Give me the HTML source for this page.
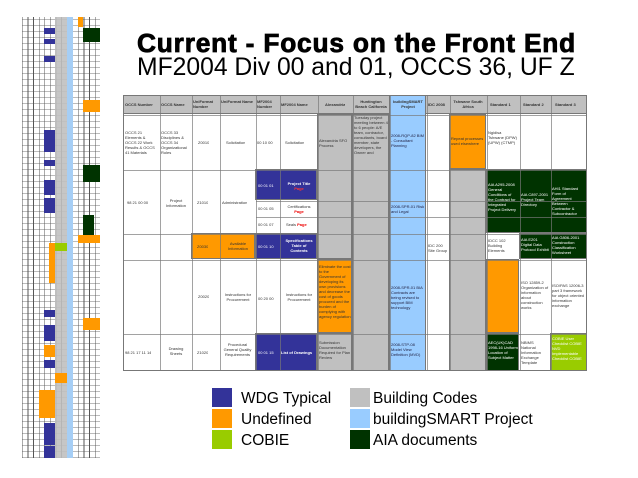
<!DOCTYPE html><html><head><style>
body{margin:0;width:638px;height:478px;background:#fff;position:relative;overflow:hidden;font-family:"Liberation Sans",sans-serif}
div{position:absolute;box-sizing:border-box}
.c{border:0.6px solid #777;font-size:3.5px;line-height:4px;color:#333;overflow:hidden;padding:1px}
.t{font-size:15.5px;color:#000;line-height:18px}
.s{width:20px;height:19px}
.x{font-size:4px;line-height:5px;color:#333;overflow:hidden}
.w{color:#fff}
</style></head><body>
<div style="left:137px;top:28px;font-size:26.3px;font-weight:bold;white-space:nowrap;letter-spacing:0.8px;-webkit-text-stroke:0.8px #000">Current - Focus on the Front End</div>
<div style="left:137px;top:54px;font-size:24.7px;white-space:nowrap">MF2004 Div 00 and 01, OCCS 36, UF Z</div>

<!-- left strip -->
<div style="left:22px;top:17px;width:78px;height:441px;background:repeating-linear-gradient(90deg,#555 0 0.7px,transparent 0.7px 5.6px),repeating-linear-gradient(0deg,#777 0 0.6px,#fff 0.6px 6px)"></div>
<div style="left:55px;top:17px;width:12px;height:441px;background:#c0c0c0;opacity:.9"></div>
<div style="left:67px;top:17px;width:6px;height:441px;background:#a6cef5"></div>
<div style="left:44px;top:28px;width:11px;height:6px;background:#333399"></div>
<div style="left:44px;top:39px;width:11px;height:5px;background:#333399"></div>
<div style="left:44px;top:56px;width:11px;height:6px;background:#333399"></div>
<div style="left:44px;top:130px;width:11px;height:22px;background:#333399"></div>
<div style="left:44px;top:160px;width:11px;height:6px;background:#333399"></div>
<div style="left:44px;top:180px;width:11px;height:15px;background:#333399"></div>
<div style="left:44px;top:198px;width:11px;height:15px;background:#333399"></div>
<div style="left:44px;top:310px;width:11px;height:7px;background:#333399"></div>
<div style="left:44px;top:325px;width:11px;height:16px;background:#333399"></div>
<div style="left:44px;top:360px;width:11px;height:8px;background:#333399"></div>
<div style="left:44px;top:423px;width:11px;height:22px;background:#333399"></div>
<div style="left:44px;top:446px;width:11px;height:12px;background:#333399"></div>
<div style="left:49px;top:243px;width:6px;height:40px;background:#ff9900"></div>
<div style="left:39px;top:390px;width:16px;height:28px;background:#ff9900"></div>
<div style="left:44px;top:345px;width:11px;height:12px;background:#ff9900"></div>
<div style="left:78px;top:17px;width:5px;height:10px;background:#ff9900"></div>
<div style="left:83px;top:28px;width:17px;height:14px;background:#003300"></div>
<div style="left:83px;top:215px;width:11px;height:28px;background:#003300"></div>
<div style="left:83px;top:165px;width:17px;height:17px;background:#003300"></div>
<div style="left:78px;top:235px;width:22px;height:8px;background:#ff9900"></div>
<div style="left:55px;top:243px;width:12px;height:8px;background:#99cc00"></div>
<div style="left:83px;top:100px;width:17px;height:12px;background:#ff9900"></div>
<div style="left:83px;top:318px;width:17px;height:12px;background:#ff9900"></div>
<div style="left:55px;top:373px;width:12px;height:10px;background:#ff9900"></div>

<!-- table -->
<div style="left:123px;top:95px;width:464px;height:276px;background:#fff"></div>
<div class="c" style="left:123px;top:95px;width:464px;height:19px;background:#c0c0c0"></div>
<div class="c" style="left:389px;top:95px;width:37px;height:276px;background:#99ccff"></div>
<div class="c" style="left:317px;top:114px;width:35px;height:145px;background:#c0c0c0"></div>
<div class="c" style="left:317px;top:333px;width:35px;height:38px;background:#c0c0c0"></div>
<div class="c" style="left:352px;top:114px;width:37px;height:257px;background:#c0c0c0"></div>
<div class="c" style="left:449px;top:114px;width:37px;height:55px;background:#ff9900"></div>
<div class="c" style="left:449px;top:169px;width:37px;height:202px;background:#c0c0c0"></div>
<div class="c" style="left:255px;top:169px;width:62px;height:31px;background:#333399"></div>
<div class="c" style="left:255px;top:233px;width:62px;height:26px;background:#333399"></div>
<div class="c" style="left:255px;top:333px;width:62px;height:38px;background:#333399"></div>
<div class="c" style="left:191px;top:233px;width:64px;height:26px;background:#ff9900"></div>
<div class="c" style="left:486px;top:169px;width:101px;height:64px;background:#003300"></div>
<div class="c" style="left:519px;top:233px;width:68px;height:26px;background:#003300"></div>
<div class="c" style="left:317px;top:259px;width:35px;height:74px;background:#ff9900"></div>
<div class="c" style="left:486px;top:259px;width:33px;height:74px;background:#ff9900"></div>
<div class="c" style="left:486px;top:333px;width:33px;height:38px;background:#003300"></div>
<div class="c" style="left:550px;top:333px;width:37px;height:38px;background:#99cc00"></div>
<!-- grid lines -->
<div style="left:123px;top:95px;width:464px;height:276px;border:0.7px solid #777;background:
linear-gradient(#777,#777) 35.5px 0/0.7px 100% no-repeat,
linear-gradient(#777,#777) 67.5px 0/0.7px 100% no-repeat,
linear-gradient(#777,#777) 95.5px 0/0.7px 100% no-repeat,
linear-gradient(#777,#777) 131.5px 0/0.7px 100% no-repeat,
linear-gradient(#777,#777) 155.5px 0/0.7px 100% no-repeat,
linear-gradient(#777,#777) 193.5px 0/0.7px 100% no-repeat,
linear-gradient(#777,#777) 228.5px 0/0.7px 100% no-repeat,
linear-gradient(#777,#777) 265.5px 0/0.7px 100% no-repeat,
linear-gradient(#777,#777) 302.5px 0/0.7px 100% no-repeat,
linear-gradient(#777,#777) 325.5px 0/0.7px 100% no-repeat,
linear-gradient(#777,#777) 362.5px 0/0.7px 100% no-repeat,
linear-gradient(#777,#777) 395.5px 0/0.7px 100% no-repeat,
linear-gradient(#777,#777) 426.5px 0/0.7px 100% no-repeat,
linear-gradient(#777,#777) 0 18.5px/100% 0.7px no-repeat,
linear-gradient(#777,#777) 0 73.5px/100% 0.7px no-repeat,
linear-gradient(#777,#777) 0 137.5px/100% 0.7px no-repeat,
linear-gradient(#777,#777) 0 163.5px/100% 0.7px no-repeat,
linear-gradient(#777,#777) 0 237.5px/100% 0.7px no-repeat,
linear-gradient(#777,#777) 132px 104.5px/330px 0.7px no-repeat,
linear-gradient(#777,#777) 132px 120.5px/330px 0.7px no-repeat"></div>
<!-- header labels -->
<div class="x" style="left:125px;top:102px;font-weight:bold">OCCS Number</div>
<div class="x" style="left:161px;top:102px;font-weight:bold">OCCS Name</div>
<div class="x" style="left:193px;top:99px;font-weight:bold;width:25px">UniFormat Number</div>
<div class="x" style="left:221px;top:99px;font-weight:bold;width:32px">UniFormat Name</div>
<div class="x" style="left:257px;top:99px;font-weight:bold;width:22px">MF2004 Number</div>
<div class="x" style="left:281px;top:102px;font-weight:bold">MF2004 Name</div>
<div class="x" style="left:325px;top:102px;font-weight:bold">Alexandria</div>
<div class="x" style="left:354px;top:99px;font-weight:bold;width:34px;text-align:center">Huntington Beach California</div>
<div class="x" style="left:391px;top:99px;font-weight:bold;width:34px;text-align:center">buildingSMART Project</div>
<div class="x" style="left:428px;top:102px;font-weight:bold">IDC 2008</div>
<div class="x" style="left:451px;top:99px;font-weight:bold;width:34px;text-align:center">Tshwane South Africa</div>
<div class="x" style="left:490px;top:102px;font-weight:bold">Standard 1</div>
<div class="x" style="left:523px;top:102px;font-weight:bold">Standard 2</div>
<div class="x" style="left:555px;top:102px;font-weight:bold">Standard 3</div>
<!-- body text -->
<div class="x" style="left:125px;top:130px;width:33px">OCCS 21 Elements &amp; OCCS 22 Work Results &amp; OCCS 41 Materials</div>
<div class="x" style="left:161px;top:130px;width:29px">OCCS 33 Disciplines &amp; OCCS 34 Organizational Roles</div>
<div class="x" style="left:198px;top:140px">Z0010</div>
<div class="x" style="left:226px;top:140px">Solicitation</div>
<div class="x" style="left:257px;top:140px">00 10 00</div>
<div class="x" style="left:285px;top:140px">Solicitation</div>
<div class="x" style="left:319px;top:138px;width:32px">Alexandria SFO Process</div>
<div class="x" style="left:354px;top:115px;width:34px;height:53px">Tuesday project meeting between 4 to 6 people: A/E team, contractor, consultants, board member, state developers, the Owner and</div>
<div class="x" style="left:391px;top:133px;width:34px;color:#224">2008-RQP-82 BIM - Consultant Planning</div>
<div class="x" style="left:451px;top:136px;width:34px">Repeat processes used elsewhere</div>
<div class="x" style="left:488px;top:130px;width:30px">Ngidisa Tshwane (DPW) (UPW) (CTMP)</div>
<div class="x" style="left:127px;top:200px">98 21 00 00</div>
<div class="x" style="left:163px;top:198px;width:26px;text-align:center">Project Information</div>
<div class="x" style="left:197px;top:200px">Z1010</div>
<div class="x" style="left:222px;top:200px">Administration</div>
<div class="x w" style="left:258px;top:183px">00 01 01</div>
<div class="x w" style="left:283px;top:181px;font-weight:bold;width:32px;text-align:center">Project Title <span style="color:#f33">Page</span></div>
<div class="x" style="left:258px;top:206px">00 01 05</div>
<div class="x" style="left:283px;top:204px;width:32px;text-align:center">Certifications <span style="color:#e00;font-weight:bold">Page</span></div>
<div class="x" style="left:258px;top:222px">00 01 07</div>
<div class="x" style="left:286px;top:222px">Seals <span style="color:#e00;font-weight:bold">Page</span></div>
<div class="x" style="left:391px;top:204px;width:34px;color:#224">2008-SPR-01 Risk and Legal</div>
<div class="x w" style="left:488px;top:182px;width:30px">AIA A295-2008 General Conditions of the Contract for Integrated Project Delivery</div>
<div class="x w" style="left:521px;top:192px;width:28px">AIA C897-2001 Project Team Directory</div>
<div class="x w" style="left:552px;top:186px;width:34px">AHI1 Standard Form of Agreement Between Contractor &amp; Subcontractor</div>
<div class="x" style="left:197px;top:244px">Z0030</div>
<div class="x" style="left:222px;top:241px;width:32px;text-align:center">Available Information</div>
<div class="x w" style="left:258px;top:244px">00 01 10</div>
<div class="x w" style="left:283px;top:238px;width:32px;text-align:center;font-weight:bold">Specifications Table of Contents</div>
<div class="x" style="left:428px;top:243px;width:20px">IDC 200 Site Group</div>
<div class="x" style="left:488px;top:238px;width:30px">IDCC 102 Building Elements</div>
<div class="x w" style="left:521px;top:237px;width:28px">AIA E201 Digital Data Protocol Exhibit</div>
<div class="x w" style="left:552px;top:235px;width:34px">AIA G806-2001 Construction Classification Worksheet</div>
<div class="x" style="left:319px;top:264px;width:32px;height:68px">Eliminate the cost to the Government of developing its own provisions and decrease the cost of goods procured and the burden of complying with agency regulation</div>
<div class="x" style="left:198px;top:294px">Z0020</div>
<div class="x" style="left:222px;top:292px;width:32px;text-align:center">Instructions for Procurement</div>
<div class="x" style="left:258px;top:296px">00 20 00</div>
<div class="x" style="left:283px;top:292px;width:32px;text-align:center">Instructions for Procurement</div>
<div class="x" style="left:391px;top:285px;width:34px;color:#224">2008-SPR-01 BIA Contracts are being revised to support BIM technology</div>
<div class="x" style="left:521px;top:280px;width:28px">ISO 12859-2 Organization of information about construction works</div>
<div class="x" style="left:552px;top:283px;width:34px">ISO/PAS 12006-3 part 3 framework for object oriented information exchange</div>
<div class="x" style="left:125px;top:350px">98 21 17 11 14</div>
<div class="x" style="left:163px;top:346px;width:26px;text-align:center">Drawing Sheets</div>
<div class="x" style="left:197px;top:350px">Z1020</div>
<div class="x" style="left:221px;top:342px;width:33px;text-align:center">Procedural General Quality Requirements</div>
<div class="x w" style="left:258px;top:350px">00 01 15</div>
<div class="x w" style="left:281px;top:350px;font-weight:bold">List of Drawings</div>
<div class="x" style="left:319px;top:340px;width:32px">Submission Documentation Required for Plan Review</div>
<div class="x" style="left:391px;top:342px;width:34px;color:#224">2008-STP-08 Model View Definition (MVD)</div>
<div class="x w" style="left:488px;top:340px;width:30px">AEC(UK)CAD 1998-16 Uniform Location of Subject Matter</div>
<div class="x" style="left:521px;top:340px;width:28px">NBIMS National Information Exchange Template</div>
<div class="x w" style="left:552px;top:336px;width:34px">COBIE User Checklist COBIE NVD Implementable Checklist COBIE</div>

<!-- legend -->
<div class="s" style="left:212px;top:388px;background:#333399"></div>
<div class="s" style="left:212px;top:409px;background:#ff9900"></div>
<div class="s" style="left:212px;top:430px;background:#99cc00"></div>
<div class="s" style="left:350px;top:388px;background:#c0c0c0"></div>
<div class="s" style="left:350px;top:409px;background:#99ccff"></div>
<div class="s" style="left:350px;top:430px;background:#003300"></div>
<div class="t" style="left:241px;top:390px">WDG Typical</div>
<div class="t" style="left:241px;top:411px">Undefined</div>
<div class="t" style="left:241px;top:432px">COBIE</div>
<div class="t" style="left:373px;top:390px">Building Codes</div>
<div class="t" style="left:373px;top:411px;white-space:nowrap">buildingSMART Project</div>
<div class="t" style="left:373px;top:432px">AIA documents</div>
</body></html>
